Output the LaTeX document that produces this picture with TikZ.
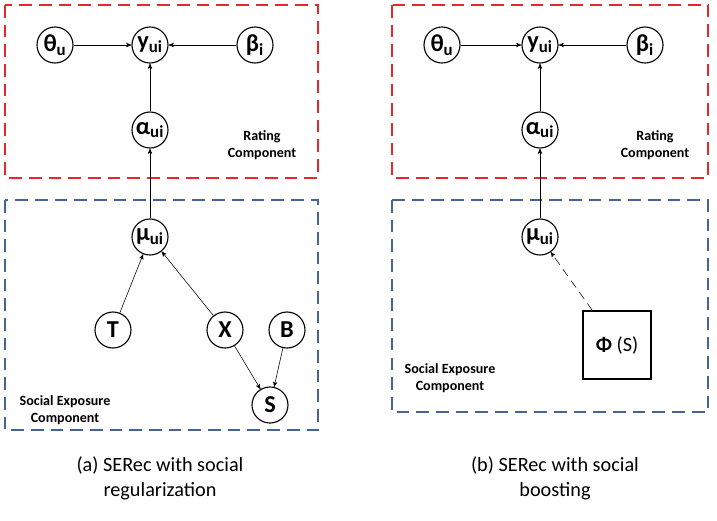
\documentclass[tikz,border=0pt]{standalone}
\usepackage{fontspec}
\setmainfont{Carlito}
\usetikzlibrary{arrows}
\definecolor{redbox}{RGB}{230,40,40}
\definecolor{bluebox}{RGB}{70,100,150}
\newcommand{\sbs}[1]{\textsubscript{#1}}
\begin{document}
\begin{tikzpicture}[x=0.025cm,y=-0.025cm,>=stealth',
    var/.style={circle,draw,thick,minimum size=0.9cm,inner sep=0pt,font=\bfseries\LARGE},
    comp/.style={dashed,thick,dash pattern=on 9pt off 5pt},
    lbl/.style={font=\bfseries,align=center}]
    \useasboundingbox (0,0) rectangle (717,520);
    % (a) social regularization
    \draw[comp,redbox] (5,5) rectangle (318,178);
    \draw[comp,bluebox] (5,200) rectangle (318,430);
    \node[var] (theta_a) at (55,45) {θ\sbs{u}};
    \node[var] (y_a) at (150,45) {y\sbs{ui}};
    \node[var] (beta_a) at (255,45) {β\sbs{i}};
    \node[var] (alpha_a) at (150,130) {α\sbs{ui}};
    \node[var] (mu_a) at (150,237) {μ\sbs{ui}};
    \node[var] (T) at (113,330) {T};
    \node[var] (X) at (225,330) {X};
    \node[var] (B) at (287,330) {B};
    \node[var] (S) at (270,405) {S};
    \draw[->] (theta_a) -- (y_a);
    \draw[->] (beta_a) -- (y_a);
    \draw[->] (alpha_a) -- (y_a);
    \draw[->] (mu_a) -- (alpha_a);
    \draw[->] (T) -- (mu_a);
    \draw[->] (X) -- (mu_a);
    \draw[->] (X) -- (S);
    \draw[->] (B) -- (S);
    \node[lbl] (rating_a) at (262,145) {Rating\\Component};
    \node[lbl] (social_a) at (65,410) {Social Exposure\\Component};
    \node[align=center,font=\Large] (cap_a) at (160,478) {(a) SERec with social\\regularization};
    % (b) social boosting
    \draw[comp,redbox] (392,5) rectangle (708,178);
    \draw[comp,bluebox] (392,200) rectangle (708,412);
    \node[var] (theta_b) at (442,45) {θ\sbs{u}};
    \node[var] (y_b) at (540,45) {y\sbs{ui}};
    \node[var] (beta_b) at (645,45) {β\sbs{i}};
    \node[var] (alpha_b) at (540,130) {α\sbs{ui}};
    \node[var] (mu_b) at (540,237) {μ\sbs{ui}};
    \node[draw,thick,minimum size=1.7cm,font=\Large] (phi) at (617,345) {\textbf{Φ} (\textrm{S})};
    \draw[->] (theta_b) -- (y_b);
    \draw[->] (beta_b) -- (y_b);
    \draw[->] (alpha_b) -- (y_b);
    \draw[->] (mu_b) -- (alpha_b);
    \draw[->,dashed,dash pattern=on 6pt off 4pt] (phi) -- (mu_b);
    \node[lbl] (rating_b) at (655,145) {Rating\\Component};
    \node[lbl] (social_b) at (450,378) {Social Exposure\\Component};
    \node[align=center,font=\Large] (cap_b) at (555,478) {(b) SERec with social\\boosting};
\end{tikzpicture}
\end{document}
